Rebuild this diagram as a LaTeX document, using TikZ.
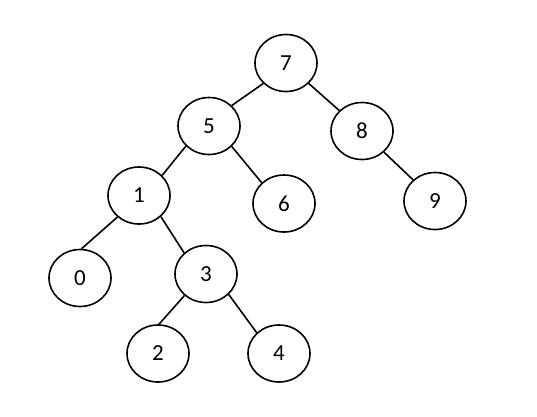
\documentclass[tikz,border=0pt]{standalone}
\usepackage{fontspec}
\setmainfont{Carlito}
\usetikzlibrary{shapes.geometric}
\begin{document}
\begin{tikzpicture}[x=1pt,y=-1pt,
  tn/.style={ellipse,draw=black,line width=1.6pt,minimum width=62pt,minimum height=57pt,inner sep=0pt,font=\fontsize{23}{27}\selectfont},
  ed/.style={line width=1.6pt}]
\useasboundingbox (0,0) rectangle (537,416);
\node[tn] (n7) at (286,63) {7};
\node[tn] (n5) at (209,126) {5};
\node[tn] (n8) at (362,131) {8};
\node[tn] (n1) at (139,195.5) {1};
\node[tn] (n6) at (284,203.5) {6};
\node[tn] (n9) at (435,201) {9};
\node[tn] (n0) at (80,278) {0};
\node[tn] (n3) at (206,274) {3};
\node[tn] (n2) at (158,353.5) {2};
\node[tn] (n4) at (279,353.5) {4};
\draw[ed] (n7.222) -- (n5.42);
\draw[ed] (n7.318) -- (n8.138);
\draw[ed] (n5.221) -- (n1.41);
\draw[ed] (n5.318) -- (n6.137);
\draw[ed] (n8.316) -- (n9.136);
\draw[ed] (n1.225) -- (n0.87);
\draw[ed] (n1.316) -- (n3.136);
\draw[ed] (n3.225) -- (n2.88);
\draw[ed] (n3.318) -- (n4.137);
\end{tikzpicture}
\end{document}
